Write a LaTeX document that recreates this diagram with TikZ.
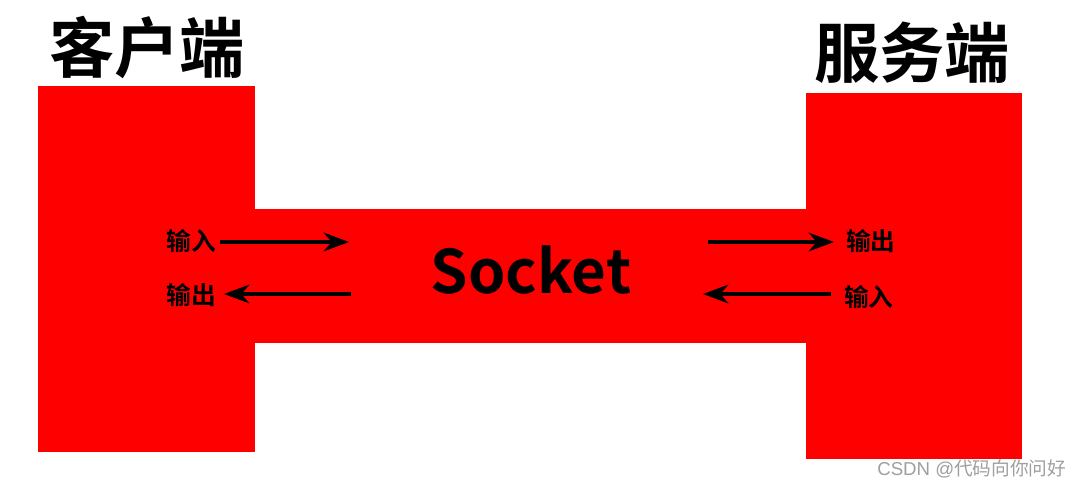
\documentclass[tikz,border=0pt]{standalone}
\usepackage{fontspec}
\setmainfont{Noto Sans CJK SC}
\newfontfamily\cjkb{Noto Sans CJK SC Bold}
\newfontfamily\wm{Liberation Sans}
\newfontfamily\wmcjk{Noto Sans CJK SC}
\usetikzlibrary{arrows.meta}
\begin{document}
\begin{tikzpicture}[x=0.75pt,y=-0.75pt,
  blockshape/.style={fill=red},
  title/.style={font=\cjkb\fontsize{49pt}{49pt}\selectfont, inner sep=0pt, text=black},
  lab/.style={font=\cjkb\fontsize{18.5pt}{18.5pt}\selectfont, inner sep=0pt, text=black},
  arr/.style={line width=2.6pt, -{Stealth[length=19pt,width=14pt,inset=6pt]}}]
\useasboundingbox (0,0) rectangle (1084,488);
\fill[white] (0,0) rectangle (1084,488);
% shapes
\fill[blockshape] (38,86) rectangle (255,452);
\fill[blockshape] (255,209) rectangle (806,343);
\fill[blockshape] (806,93) rectangle (1022,459);
% titles
\node[title] (client) at (147,48) {客户端};
\node[title] (server) at (912,53) {服务端};
% socket
\node[font=\cjkb\fontsize{45pt}{45pt}\selectfont, inner sep=0pt] (socket) at (531,270) {Socket};
% labels
\node[lab, anchor=east] (cin) at (216,241) {输入};
\node[lab, anchor=east] (cout) at (216,295) {输出};
\node[lab, anchor=west] (sout) at (846,241) {输出};
\node[lab, anchor=west] (sin) at (844,297) {输入};
\coordinate (cinE) at (349,242);
\coordinate (coutS) at (351,294);
\coordinate (soutS) at (708,242);
\coordinate (sinS) at (831,294);
\coordinate (sinE) at (703,294);
\draw[arr] ([xshift=3pt]cin.east |- cinE) -- (cinE);
\draw[arr] (coutS) -- ([xshift=6pt]cout.east |- coutS);
\draw[arr] (soutS) -- ([xshift=-9pt]sout.west |- soutS);
\draw[arr] (sinS) -- (sinE);
% watermark
\node[anchor=west, inner sep=0pt, text=gray!75, font=\fontsize{14pt}{14pt}\selectfont] (wmk) at (877,469) {\wm CSDN @\wmcjk 代码向你问好};
\end{tikzpicture}
\end{document}
